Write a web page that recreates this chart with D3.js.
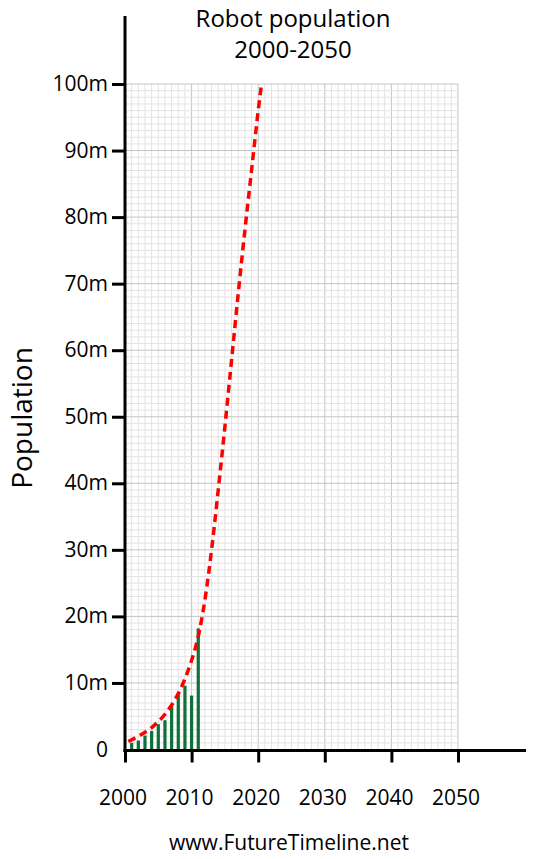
<!DOCTYPE html>
<html>
<head>
<meta charset="utf-8">
<script src="https://cdn.jsdelivr.net/npm/d3@7"></script>
<style>
  body { margin: 0; background: #fff; }
  text { font-family: "Open Sans", Lato, sans-serif; fill: #000; }
</style>
</head>
<body>
<div id="vis"></div>
<script>
const FRAME_WIDTH = 537;
const FRAME_HEIGHT = 859;

// bars: robots in use (millions)
const barYears = [2001, 2002, 2003, 2004, 2005, 2006, 2007, 2008, 2009, 2010, 2011];
const barValues = [1.0, 1.35, 2.1, 2.8, 3.8, 4.4, 6.5, 8.4, 9.6, 8.1, 18.2];

// projected trend (dashed red)
const trendYears = [2000.5, 2002, 2004, 2006, 2008, 2009, 2010, 2011, 2012, 2013, 2014, 2015, 2016, 2017, 2018, 2019, 2020, 2020.5];
const trendValues = [1.2, 2.0, 3.3, 5.3, 8.4, 10.6, 13.4, 17.0, 22.5, 30.0, 39.0, 48.5, 58.5, 68.5, 78.0, 87.0, 96.0, 100];

const xTicks = [2000, 2010, 2020, 2030, 2040, 2050];
const yTicks = [0, 10, 20, 30, 40, 50, 60, 70, 80, 90, 100];
const yTickLabels = ["0", "10m", "20m", "30m", "40m", "50m", "60m", "70m", "80m", "90m", "100m"];

const svg = d3.select("#vis").append("svg")
    .attr("width", FRAME_WIDTH)
    .attr("height", FRAME_HEIGHT);

const X_SCALE = d3.scaleLinear().domain([2000, 2050]).range([125, 458]);
const Y_SCALE = d3.scaleLinear().domain([0, 100]).range([749.5, 84]);

// minor grid
const grid = svg.append("g");
grid.selectAll(".vminor").data(d3.range(2000, 2051))
  .enter().append("line")
    .attr("x1", d => X_SCALE(d)).attr("x2", d => X_SCALE(d))
    .attr("y1", Y_SCALE(100)).attr("y2", Y_SCALE(0))
    .attr("stroke", d => d % 10 === 0 ? "#c4c4c4" : "#e3e3e3")
    .attr("stroke-width", 1);
grid.selectAll(".hminor").data(d3.range(0, 101))
  .enter().append("line")
    .attr("x1", X_SCALE(2000)).attr("x2", X_SCALE(2050))
    .attr("y1", d => Y_SCALE(d)).attr("y2", d => Y_SCALE(d))
    .attr("stroke", d => d % 10 === 0 ? "#c4c4c4" : "#e3e3e3")
    .attr("stroke-width", 1);

// bars
svg.selectAll(".bar").data(barYears)
  .enter().append("rect")
    .attr("x", d => X_SCALE(d) - 1.6)
    .attr("width", 3.2)
    .attr("y", (d, i) => Y_SCALE(barValues[i]))
    .attr("height", (d, i) => Y_SCALE(0) - Y_SCALE(barValues[i]))
    .attr("fill", "#10703a");

// trend line
const trend = trendYears.map((d, i) => [d, trendValues[i]]);
svg.append("path")
    .datum(trend)
    .attr("d", d3.line().x(d => X_SCALE(d[0])).y(d => Y_SCALE(d[1])).curve(d3.curveMonotoneX))
    .attr("fill", "none")
    .attr("stroke", "#ff0000")
    .attr("stroke-width", 3.5)
    .attr("stroke-dasharray", "8,5");

// axes
svg.append("g")
    .attr("transform", "translate(0," + Y_SCALE(0) + ")")
    .call(d3.axisBottom(X_SCALE).tickValues(xTicks).tickSize(13).tickFormat(""))
    .call(g => g.select(".domain").remove())
    .call(g => g.selectAll("line").attr("stroke", "#000").attr("stroke-width", 3));
svg.append("line")
    .attr("x1", 123.5).attr("x2", 526)
    .attr("y1", Y_SCALE(0) + 1).attr("y2", Y_SCALE(0) + 1)
    .attr("stroke", "#000").attr("stroke-width", 3);

svg.append("g")
    .attr("transform", "translate(" + X_SCALE(2000) + ",0)")
    .call(d3.axisLeft(Y_SCALE).tickValues(yTicks.slice(1)).tickSize(13).tickFormat(""))
    .call(g => g.select(".domain").remove())
    .call(g => g.selectAll("line").attr("stroke", "#000").attr("stroke-width", 3));
svg.append("line")
    .attr("x1", 125).attr("x2", 125)
    .attr("y1", 16).attr("y2", Y_SCALE(0) + 2.5)
    .attr("stroke", "#000").attr("stroke-width", 3);

// tick labels
svg.selectAll(".ylab").data(yTicks)
  .enter().append("text")
    .attr("x", 108)
    .attr("y", d => Y_SCALE(d) + 7)
    .attr("text-anchor", "end")
    .attr("font-size", 21)
    .text((d, i) => yTickLabels[i]);

svg.selectAll(".xlab").data(xTicks)
  .enter().append("text")
    .attr("x", d => X_SCALE(d) - 2)
    .attr("y", 805)
    .attr("text-anchor", "middle")
    .attr("font-size", 21)
    .text(d => d);

// titles
svg.append("text").attr("x", 293).attr("y", 27).attr("text-anchor", "middle")
    .attr("font-size", 24).text("Robot population");
svg.append("text").attr("x", 293).attr("y", 58).attr("text-anchor", "middle")
    .attr("font-size", 24).text("2000-2050");
svg.append("text")
    .attr("transform", "translate(32,418) rotate(-90)")
    .attr("text-anchor", "middle")
    .attr("font-size", 28).text("Population");
svg.append("text").attr("x", 289).attr("y", 850).attr("text-anchor", "middle")
    .attr("font-size", 21).text("www.FutureTimeline.net");
</script>
</body>
</html>
